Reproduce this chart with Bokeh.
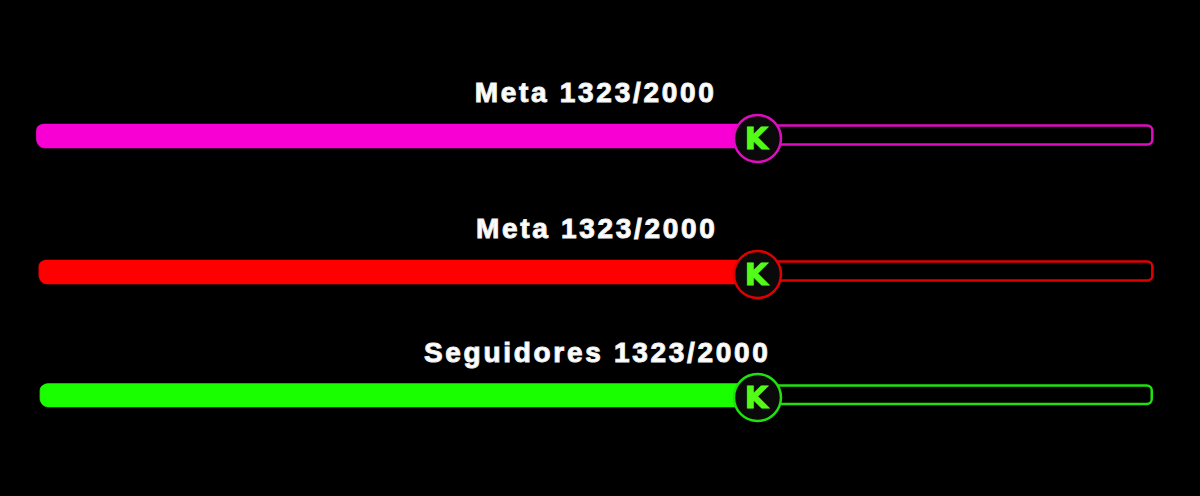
from bokeh.plotting import figure
from bokeh.models import Range1d
from bokeh.core.properties import value
from bokeh.embed import file_html
from bokeh.resources import INLINE

labels = ["Meta 1323/2000", "Meta 1323/2000", "Seguidores 1323/2000"]
current = [1323, 1323, 1323]
goal = [1998, 1998, 1997]
track_start = [92, 96, 98]
fill_colors = ["#f800d4", "#ff0000", "#19ff00"]
line_colors = ["#e00cc0", "#e00000", "#22e010"]
kick_green = "#53fc18"

# Vertical layout in page pixels
fill_top = [123.5, 259.5, 383]
fill_bottom = [147.5, 283.5, 406.5]
track_top = [125, 261, 385]
track_bottom = [144, 280, 403.5]
thumb_y = [138, 274, 397]
label_y = [92, 228, 352]
label_x = [1014, 1016, 1003]

p = figure(width=1184, height=480, output_backend="svg", toolbar_location=None,
           x_range=Range1d(29, 2053), y_range=Range1d(480, 0),
           background_fill_color="#000000", border_fill_color="#000000",
           min_border=0, outline_line_color=None)
p.xaxis.visible = False
p.yaxis.visible = False
p.grid.visible = False
p.styles = {"letter-spacing": "2.7px"}

# outline track
p.quad(left=track_start, right=goal, top=track_top, bottom=track_bottom,
       fill_color=None, line_color=line_colors, line_width=2.5, border_radius=5)
# filled part
p.quad(left=track_start, right=current, top=fill_top, bottom=fill_bottom,
       fill_color=fill_colors, line_color=fill_colors, line_width=0.5, border_radius=7)
# thumb
p.scatter(x=current, y=thumb_y, marker="circle", size=47, fill_color="#0a0a0a",
          line_color=line_colors, line_width=2.5)
p.text(x=[c - 2 for c in current], y=thumb_y, text=["K", "K", "K"], text_color=kick_green,
       text_outline_color=kick_green,
       text_font=value("DejaVu Sans"), text_font_style="bold", text_font_size="30px",
       text_align="center", text_baseline="middle")
# labels
p.text(x=label_x, y=label_y, text=labels, text_color="#ffffff", text_outline_color="#f0f0f0",
       text_font=value("Liberation Sans"), text_font_style="bold", text_font_size="28px",
       text_align="center", text_baseline="middle")

html = file_html(p, INLINE)
html = html.replace("<head>", "<head><style>html,body{background:#000000}</style>", 1)
open("out.html", "w").write(html)
